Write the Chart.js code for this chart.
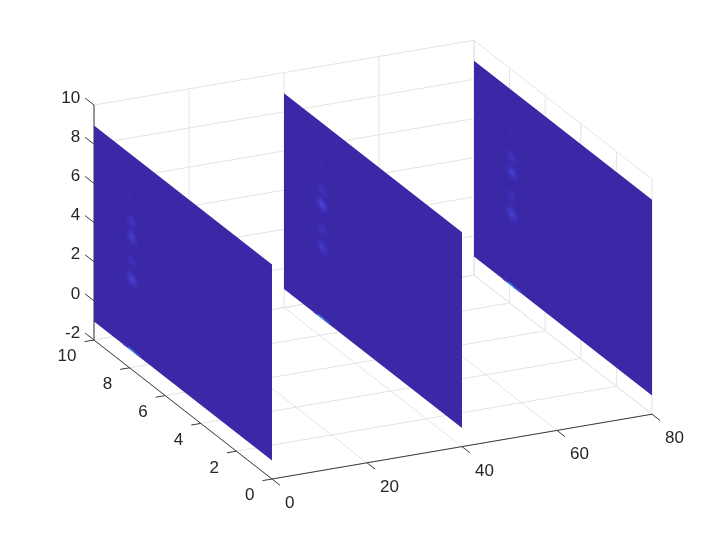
<!DOCTYPE html>
<html>
<head>
<meta charset="utf-8">
<script src="https://cdn.jsdelivr.net/npm/chart.js@4"></script>
<style>html,body{margin:0;padding:0;background:#fff}canvas{display:block}</style>
</head>
<body>
<canvas id="c" width="720" height="540"></canvas>
<script>
// Axis ticks
const xTicks = [0, 20, 40, 60, 80];
const yTicks = [0, 2, 4, 6, 8, 10];
const zTicks = [-2, 0, 2, 4, 6, 8, 10];
// Slices
const sliceX = [0, 40, 80];
const sliceZ = [-1.05, 8.95];
// Bright spots on each slice (y, z) and their strength per slice
const spotY = [7.87, 7.87, 7.87, 7.87, 7.95];
const spotZ = [2.63, 3.55, 4.77, 5.54, 6.76];
const spotLevel0 = [0.75, 0.35, 0.65, 0.42, 0.1];
const spotLevel1 = [0.6, 0.35, 0.8, 0.4, 0.1];
const spotLevel2 = [0.7, 0.32, 0.7, 0.42, 0.1];
const spotLevels = [spotLevel0, spotLevel1, spotLevel2];
// Light streak along the lower edge of each slice
const streakY = [8.35, 8.1, 7.75, 7.4];
const streakColor = ['#3d3fc0', '#3f86de', '#3d63cf'];

const SLICE_COLOR = '#3b28a7', GRID = '#e4e4e4', AXIS = '#3a3a3a', TEXT = '#262626';

// Orthographic view of the 3D box on to the page plane
function project(x, y, z) {
  return { x: 272 + 4.75 * x - 17.8 * y, y: 479 - 0.81 * x - 13.9 * y - 19.58 * (z + 2) };
}

const datasets = [];
function addLine(a, b, color, width) {
  datasets.push({ data: [project(...a), project(...b)], showLine: true, borderColor: color,
    borderWidth: width, pointRadius: 0, fill: false, borderCapStyle: 'butt' });
}

// Grid on floor and two back walls
const xMax = xTicks[xTicks.length - 1], yMax = yTicks[yTicks.length - 1];
const zMin = zTicks[0], zMax = zTicks[zTicks.length - 1];
xTicks.forEach(x => { addLine([x, 0, zMin], [x, yMax, zMin], GRID, 1); addLine([x, yMax, zMin], [x, yMax, zMax], GRID, 1); });
yTicks.forEach(y => { addLine([0, y, zMin], [xMax, y, zMin], GRID, 1); addLine([xMax, y, zMin], [xMax, y, zMax], GRID, 1); });
zTicks.forEach(z => { addLine([0, yMax, z], [xMax, yMax, z], GRID, 1); addLine([xMax, yMax, z], [xMax, 0, z], GRID, 1); });

// Axis lines and tick marks
addLine([0, 0, zMin], [xMax, 0, zMin], AXIS, 1);
addLine([0, 0, zMin], [0, yMax, zMin], AXIS, 1);
addLine([0, yMax, zMin], [0, yMax, zMax], AXIS, 1);
const X_TICK = 0.45, Y_TICK = 2, Z_TICK = 0.5;
xTicks.forEach(x => addLine([x, 0, zMin], [x, -X_TICK, zMin], AXIS, 1));
yTicks.forEach(y => addLine([0, y, zMin], [-Y_TICK, y, zMin], AXIS, 1));
zTicks.forEach(z => addLine([0, yMax, z], [0, yMax + Z_TICK, z], AXIS, 1));

// Soft spot sprite
function sprite(level) {
  const w = 40, h = 40, c = document.createElement('canvas');
  c.width = w; c.height = h;
  const g = c.getContext('2d');
  g.translate(w / 2, h / 2);
  g.transform(1, 0.78, 0, 1, 0, 0);
  g.scale(0.8, 1);
  const r = 9 + 3 * level;
  const grad = g.createRadialGradient(0, 0, 0, 0, 0, r);
  grad.addColorStop(0, `rgba(76,80,235,${level})`);
  grad.addColorStop(0.45, `rgba(72,68,220,${level * 0.5})`);
  grad.addColorStop(1, 'rgba(60,42,170,0)');
  g.fillStyle = grad;
  g.beginPath(); g.arc(0, 0, r, 0, Math.PI * 2); g.fill();
  return c;
}

// Slices
sliceX.forEach((x, s) => {
  datasets.push({ data: [project(x, yMax, sliceZ[1]), project(x, 0, sliceZ[1])], showLine: true,
    borderWidth: 0, borderColor: SLICE_COLOR, pointRadius: 0, backgroundColor: SLICE_COLOR, fill: '+1' });
  datasets.push({ data: [project(x, yMax, sliceZ[0]), project(x, 0, sliceZ[0])], showLine: true,
    borderWidth: 0, borderColor: SLICE_COLOR, pointRadius: 0, fill: false });
  datasets.push({ data: spotY.map((y, i) => project(x, y, spotZ[i])), showLine: false,
    pointStyle: spotLevels[s].map(sprite), pointRadius: 1, borderWidth: 0 });
  streakColor.forEach((col, i) => addLine([x, streakY[i], sliceZ[0] + 0.04], [x, streakY[i + 1], sliceZ[0] + 0.04], col, 1.6));
});

datasets.forEach((d, i) => { d.order = datasets.length - i; d.clip = false; });

const tickLabels = {
  id: 'tickLabels',
  afterDatasetsDraw(chart) {
    const { ctx, scales } = chart;
    const put = (p, dx, dy, t, align) => {
      ctx.textAlign = align;
      ctx.fillText(t, scales.x.getPixelForValue(p.x) + dx, scales.y.getPixelForValue(p.y) + dy);
    };
    ctx.save();
    ctx.font = '17px "Liberation Sans", Arial, sans-serif';
    ctx.fillStyle = TEXT;
    ctx.textBaseline = 'middle';
    xTicks.forEach(x => put(project(x, -X_TICK, zMin), 5, 18, String(x), 'left'));
    yTicks.forEach(y => put(project(-Y_TICK, y, zMin), -8, 15, String(y), 'right'));
    zTicks.forEach(z => put(project(0, yMax + Z_TICK, z), -5, 0, String(z), 'right'));
    ctx.restore();
  }
};

new Chart(document.getElementById('c'), {
  type: 'scatter',
  data: { datasets },
  plugins: [tickLabels],
  options: {
    responsive: false, animation: false, devicePixelRatio: 1, events: [],
    layout: { padding: 0, autoPadding: false },
    plugins: { legend: { display: false }, tooltip: { enabled: false }, title: { display: false } },
    scales: {
      x: { type: 'linear', min: 0, max: 720, display: false },
      y: { type: 'linear', min: 0, max: 540, reverse: true, display: false }
    }
  }
});
</script>
</body>
</html>
